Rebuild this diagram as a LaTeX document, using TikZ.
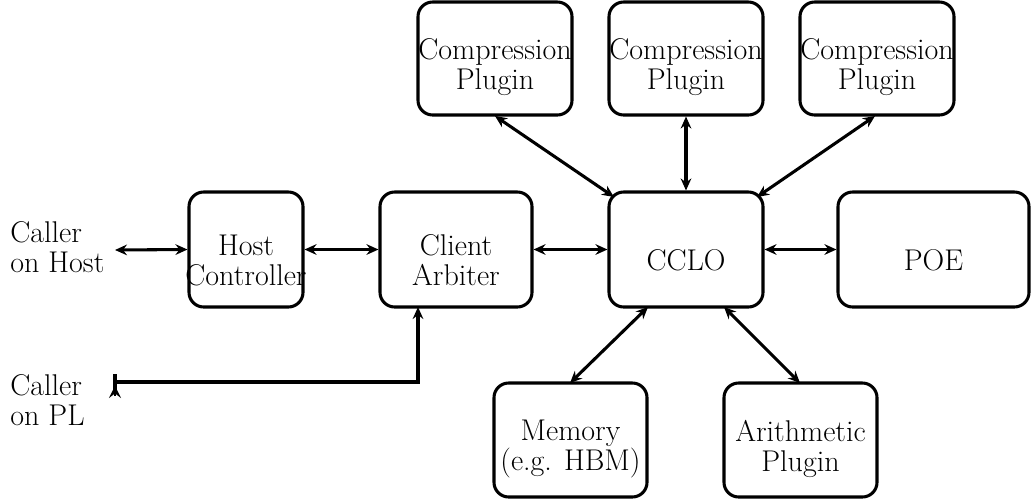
\documentclass[tikz,border=0pt]{standalone}
\usetikzlibrary{arrows.meta}
\begin{document}
\begin{tikzpicture}[x=0.75pt,y=-0.75pt,
  box/.style={draw,line width=2.3pt,rounded corners=11pt,inner sep=0pt},
  lbl/.style={font=\fontsize{22.5}{22.5}\selectfont,align=center,inner sep=0pt},
  conn/.style={line width=2.3pt,{Stealth[length=9pt,width=8pt,inset=3pt]}-{Stealth[length=9pt,width=8pt,inset=3pt]}},
  one/.style={line width=2.3pt,-{Stealth[length=9pt,width=8pt,inset=3pt]}}]
\useasboundingbox (0,0) rectangle (1031,500);
\newcommand{\bx}[6]{\node[box,minimum width=#4*0.75pt,minimum height=#5*0.75pt] (#1) at (#2,#3) {};}
\bx{c1}{495}{58.5}{154}{113}{}
\bx{c2}{686}{58.5}{154}{113}{}
\bx{c3}{877}{58.5}{154}{113}{}
\bx{host}{246}{249.5}{114}{115}{}
\bx{cli}{456}{249.5}{152}{115}{}
\bx{cclo}{686}{249.5}{154}{115}{}
\bx{poe}{933.5}{249.5}{191}{115}{}
\bx{mem}{570.5}{440}{153}{114}{}
\bx{ari}{800.5}{440}{153}{114}{}
\node[lbl] (t1) at (495,67) {Compression\\Plugin};
\node[lbl] (t2) at (686,67) {Compression\\Plugin};
\node[lbl] (t3) at (877,67) {Compression\\Plugin};
\node[lbl] (th) at (246,260) {Host\\Controller};
\node[lbl] (tc) at (456,260) {Client\\Arbiter};
\node[lbl] (tl) at (686,260) {CCLO};
\node[lbl] (tp) at (933.5,260) {POE};
\node[lbl] (tm) at (570.5,449) {Memory\\(e.g. HBM)};
\node[lbl] (ta) at (800.5,449) {Arithmetic\\Plugin};
\node[lbl,align=left,anchor=west] (ch) at (10,247) {Caller\\on Host};
\node[lbl,align=left,anchor=west] (cp) at (10,400) {Caller\\on PL};
\coordinate (chx) at (115,250);
\coordinate (cpx) at (115,382);
\draw[conn] (chx) -- (host.west);
\draw[conn] (host.east) -- (cli.west);
\draw[conn] (cli.east) -- (cclo.west);
\draw[conn] (cclo.east) -- (poe.west);
\draw[conn] (495,116) -- (614,197);
\draw[conn] (c2.south) -- (cclo.north);
\draw[conn] (875,116) -- (757,197);
\draw[conn] (648,307) -- (570,383);
\draw[conn] (724,307) -- (800,383);
\draw[one] (cpx) -- (418,382) -- (418,307);
\draw[line width=2.3pt] (115,374) -- (115,390);
\draw[line width=1.5pt,-{Stealth[length=9pt,width=9pt,inset=3.5pt]}] (115,396) -- (115,386);
\end{tikzpicture}
\end{document}
